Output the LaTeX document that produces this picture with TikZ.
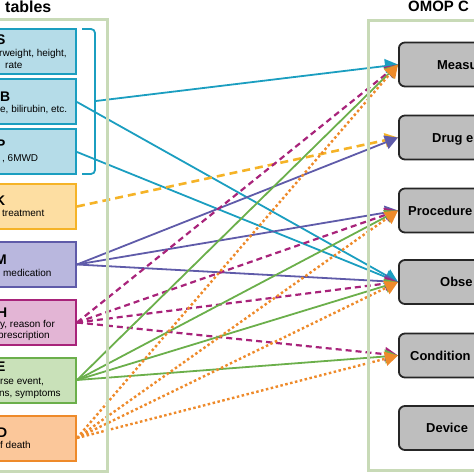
\documentclass[tikz,border=0pt]{standalone}
\usepackage{fontspec}
\setmainfont{Liberation Sans}
\usepackage{tikz}
\usetikzlibrary{arrows.meta, positioning, calc}
\definecolor{vitline}{HTML}{1B9EC0}
\definecolor{vitfill}{HTML}{B5DCE8}
\definecolor{rxline}{HTML}{F5B327}
\definecolor{rxfill}{HTML}{FDDEA2}
\definecolor{medline}{HTML}{5F5BA9}
\definecolor{medfill}{HTML}{B9B7DE}
\definecolor{hisline}{HTML}{A8237A}
\definecolor{hisfill}{HTML}{E3B5D5}
\definecolor{aeline}{HTML}{6BAF4B}
\definecolor{aefill}{HTML}{C9E1B9}
\definecolor{dthline}{HTML}{EE8A2A}
\definecolor{dthfill}{HTML}{FBC79A}
\definecolor{framecol}{HTML}{C8DAB7}
\definecolor{omopfill}{HTML}{BEBEBE}

\begin{document}
\begin{tikzpicture}[x=1bp, y=-1bp,
    every node/.style={font=\fontsize{10}{12}\selectfont, inner sep=0pt},
    srcbox/.style 2 args={draw=#1, fill=#2, line width=2bp, minimum width=130bp, minimum height=45bp, anchor=east},
    omopbox/.style={draw=black!85, fill=omopfill, line width=1.8bp, rounded corners=6bp, minimum width=160bp, minimum height=44bp, anchor=west},
    srcletter/.style={anchor=base west, font=\bfseries\fontsize{14}{16}\selectfont},
    srctext/.style={anchor=base west},
    omoplbl/.style={anchor=base west, font=\bfseries\fontsize{13}{15}\selectfont},
    maplink/.style={line width=1.8bp, -{Triangle[length=13bp, width=14bp]}},
    dashlink/.style={maplink, line width=2.2bp, dash pattern=on 6bp off 4bp},
    dotlink/.style={maplink, line width=2.4bp, dash pattern=on 2.5bp off 2.5bp},
    frame/.style={framecol, line width=3bp}]
  \useasboundingbox (0,0) rectangle (474,474);
  \clip (0,0) rectangle (474,474);

  % source tables
  \foreach \name/\yc/\lc/\fc in {vit/51.5/vitline/vitfill, lab/102/vitline/vitfill,
      func/152/vitline/vitfill, rx/206.5/rxline/rxfill, med/264.5/medline/medfill,
      hist/322.5/hisline/hisfill, ae/380/aeline/aefill, dth/438/dthline/dthfill}
    \node[srcbox={\lc}{\fc}] (\name) at (77,\yc) {};

  \foreach \name/\x/\y/\txt in {vit/-4/45/S, lab/0/102/B, func/-4/150/P, rx/-5/206/K,
      med/-5/264/M, hist/-3/317/H, ae/-4/371/E, dth/-3/437/D}
    \node[srcletter] (\name-l) at (\x,\y) {\txt};

  \foreach \name/\x/\y/\txt in {vita/-1/57/{rweight, height,}, vitb/5/69/rate,
      laba/0/113/{e, bilirubin, etc.}, funca/2/162/{, 6MWD}, rxa/2/217/treatment,
      meda/3/276/medication, hista/0/327/{y, reason for}, histb/-2/338/prescription,
      aea/0/384/{rse event,}, aeb/-1/396/{ns, symptoms}, dtha/0/448/{f death}}
    \node[srctext] (\name) at (\x,\y) {\txt};

  \draw[vitline, line width=1.8bp, rounded corners=4bp] (82,29) -| (95,174) -- (82,174);
  \coordinate (brk) at (95.9,101);

  % OMOP tables
  \foreach \name/\yc/\tx/\txt in {meas/64.5/437/Measu, drug/137.5/432/Drug e,
      proc/210.5/408/Procedure, obs/282/440/Obse, cond/355.5/410/Condition, dev/428/426/Device}{
    \node[omopbox] (\name) at (398,\yc) {};
    \node[omoplbl] (\name-t) at (\tx,\yc+4.7) {\txt};
  }

  % mappings
  \draw[maplink, vitline] (brk) -- (meas.west);
  \foreach \s in {lab, func}
    \draw[maplink, vitline] (\s.east) -- (obs.west);
  \draw[maplink, rxline, line width=2.6bp, dash pattern=on 8bp off 5bp] (rx.east) -- (drug.west);
  \foreach \t in {drug, proc, obs}
    \draw[maplink, medline] (med.east) -- (\t.west);
  \foreach \t in {meas, proc, obs, cond}
    \draw[dashlink, hisline] (hist.east) -- (\t.west);
  \foreach \t in {meas, proc, obs, cond}
    \draw[maplink, aeline] (ae.east) -- (\t.west);
  \foreach \t in {meas, proc, obs, cond}
    \draw[dotlink, dthline] (dth.east) -- (\t.west);

  \draw[frame] (-10,20) rectangle (107,471);
  \draw[frame] (368,21) rectangle (520,470);

  \node[anchor=base west, font=\bfseries\fontsize{16}{18}\selectfont] (srctitle) at (5,12.5) {tables};
  \node[anchor=base west, font=\bfseries\fontsize{15}{17}\selectfont] (omoptitle) at (408,12) {OMOP C};
\end{tikzpicture}
\end{document}
